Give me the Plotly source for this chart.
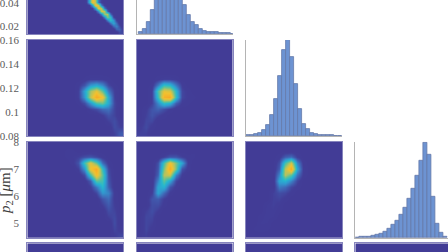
import plotly.graph_objects as go

W, H = 448, 252
COLS = [(27.3, 123.3), (136.7, 232.7), (246.0, 342.0), (355.3, 448.0)]
ROWS = [(0.0, 34.0), (40.0, 136.0), (141.7, 238.0), (243.3, 252.0)]

# Density panels: each row (top to bottom) = [first column, values...]; other cells are 0
row0_col1 = [[19,6,40,90,70,20,3],[20,6,35,90,75,22,3],[21,6,35,85,70,20,3],[22,5,30,80,70,15],
 [23,4,25,65,70,18],[25,25,60,45,8],[26,25,45,30,5],[27,20,35,18],[28,18,25,10],[29,16,16,5],[30,10,8]]
row1_col1 = [[0],[0],[0],[0],[0],[0],
 [9,2,5,5,4,2],[8,4,12,30,36,26,8,2],[8,6,34,66,82,56,22,5],[8,6,30,72,100,85,36,6],
 [8,2,10,30,52,58,36,8],[10,6,10,18,20,7],[12,5,12,7],[13,6,10,3],[14,10,6],[14,6,14]]
row1_col2 = [[0],[0],[0],[0],[0],[0],
 [3,3,6,6,4],[2,2,22,46,42,22,5],[2,6,52,82,78,42,8,3],[2,6,46,95,100,46,8,4,2],
 [2,6,26,46,40,15,4,2],[1,4,12,16,10,4],[1,6,12,7,3],[1,8,8],[0,4,9,3],[0,6,6]]
row2_col1 = [[0],[6,2,2],[6,2,4,6,10,12,8,3],[7,3,12,50,80,55,18,3],[8,6,30,85,100,45,8],
 [9,10,50,90,55,10],[10,14,55,50,12],[10,5,22,42,15],[11,8,30,25,3],[12,12,18,3],
 [12,6,14,5],[13,10,7],[13,6,9],[14,10],[14,8,3],[14,5,8]]
row2_col2 = [[0],[9,1],[4,6,12,12,6,2,2],[3,10,50,85,60,35,4],[3,12,60,100,60,12,3],
 [3,15,70,75,25,4],[3,25,55,35,8],[3,35,40,12,3],[2,5,35,18,4],[2,12,14,5],
 [2,10,10,3],[1,6,10,5],[1,8,8],[1,8,6],[1,8,3],[0,3,6]]
row2_col3 = [[0],[0],[5,3,14,18,5],[5,10,50,75,25,3],[5,14,70,100,35,5],[5,25,70,55,20,4],
 [5,35,40,25,8],[5,22,18,8,3],[4,6,10,8,3],[4,6,7,3],[3,4,6,4],[3,5,5,2],
 [2,3,5,4],[2,4,4],[1,2,3,2],[0]]

# Histogram bar heights
hist_col2 = [5,14,36,72,112,145,165,170,160,135,108,87,57,37,27,15,9,7,6,5,4,3,2,1]
hist_col3 = [2,3,5,10,18,33,63,113,180,259,289,240,158,83,37,20,10,6,4,2,2,2,1,1]
hist_col4 = [1.5,2.5,3.5,5,7,10,13,19,27,40,53,70,90,117,148,188,233,288,252,125,42,15,4]

ticks_row0 = [0.02, 0.04]
ticks_row1 = [0.08, 0.1, 0.12, 0.14, 0.16]
ticks_row2 = [5, 6, 7, 8]
range_row0 = [0.0127, 0.0426]
range_row1 = [0.08, 0.16]
range_row2 = [4.47, 8.0]

SCALE = [[0, "#423c96"], [0.05, "#423e98"], [0.12, "#4155aa"], [0.20, "#3e72bc"], [0.30, "#3298cf"],
         [0.42, "#25b8cf"], [0.55, "#5cc19a"], [0.70, "#b9c25c"], [0.85, "#f2c22f"], [1, "#f7ab28"]]
FONT = "Liberation Serif"

fig = go.Figure()
count = [0]


def axes(col, row, xr, yr, ticks=None, mirror=True):
    count[0] += 1
    n = count[0]
    sx = "" if n == 1 else str(n)
    x0, x1 = COLS[col]
    y0, y1 = ROWS[row]
    line = dict(showline=True, linecolor="#8785bd" if mirror else "#b4b4b4", linewidth=1, mirror=mirror,
                automargin=False)
    fig.layout["xaxis" + sx] = dict(domain=[x0 / W, x1 / W], range=xr, anchor="y" + sx, showgrid=False,
                                    zeroline=False, showticklabels=False, ticks="", **line)
    fig.layout["yaxis" + sx] = dict(domain=[1 - y1 / H, 1 - y0 / H], range=yr, anchor="x" + sx, showgrid=False,
                                    zeroline=False, ticks="", showticklabels=bool(ticks),
                                    tickvals=ticks, ticktext=[str(t) for t in ticks] if ticks else None,
                                    tickfont=dict(family=FONT, size=11, color="#5a5a5a"),
                                    ticklabelstandoff=5, ticklabeloverflow="allow", **line)
    return "x" + sx, "y" + sx


def density(rows, col, row, yr, ticks=None, nc=16):
    xa, ya = axes(col, row, [0, 1], yr, ticks)
    nr = len(rows)
    z = []
    for r in rows[::-1]:
        line = [0] * nc
        for k, v in enumerate(r[1:]):
            line[r[0] + k] = v
        z.append(line)
    ys = [yr[0] + (yr[1] - yr[0]) * (i + 0.5) / nr for i in range(nr)]
    xs = [(i + 0.5) / nc for i in range(nc)]
    fig.add_trace(go.Heatmap(x=xs, y=ys, z=z, zmin=0, zmax=100, zsmooth="best", colorscale=SCALE,
                             showscale=False, xaxis=xa, yaxis=ya, hoverinfo="skip"))


def hist(vals, col, row, ymax, xr, shift=0.5):
    xa, ya = axes(col, row, xr, [0, ymax], None, mirror=False)
    fig.add_trace(go.Bar(x=[i + shift for i in range(len(vals))], y=vals, width=1,
                         marker=dict(color="#6d93d2", line=dict(color="#6478a8", width=0.8)),
                         xaxis=xa, yaxis=ya, hoverinfo="skip"))


density(row0_col1, 0, 0, range_row0, ticks_row0, nc=32)
hist(hist_col2, 1, 0, 102, [0, 24], shift=1.0)
density(row1_col1, 0, 1, range_row1, ticks_row1)
density(row1_col2, 1, 1, range_row1)
hist(hist_col3, 2, 1, 290, [0, 24])
density(row2_col1, 0, 2, range_row2, ticks_row2)
density(row2_col2, 1, 2, range_row2)
density(row2_col3, 2, 2, range_row2)
hist(hist_col4, 3, 2, 290, [0, 92.7 / 4])
for c in range(4):
    density([[0], [0]], c, 3, [0, 1])

fig.add_annotation(xref="paper", yref="paper", x=6 / W, y=1 - 191 / H, showarrow=False, textangle=-90,
                   text='<i>p</i><sub>2</sub> [<i>μ</i>m]',
                   font=dict(family=FONT, size=15, color="#3c3c3c"), xanchor="center", yanchor="middle")

fig.update_layout(width=W, height=H, margin=dict(l=0, r=0, t=0, b=0, autoexpand=False), paper_bgcolor="white",
                  plot_bgcolor="white", showlegend=False, bargap=0)
fig.write_html("out.html", config={"displayModeBar": False},
               post_script="document.body.style.margin='0';document.body.style.overflow='hidden';")
